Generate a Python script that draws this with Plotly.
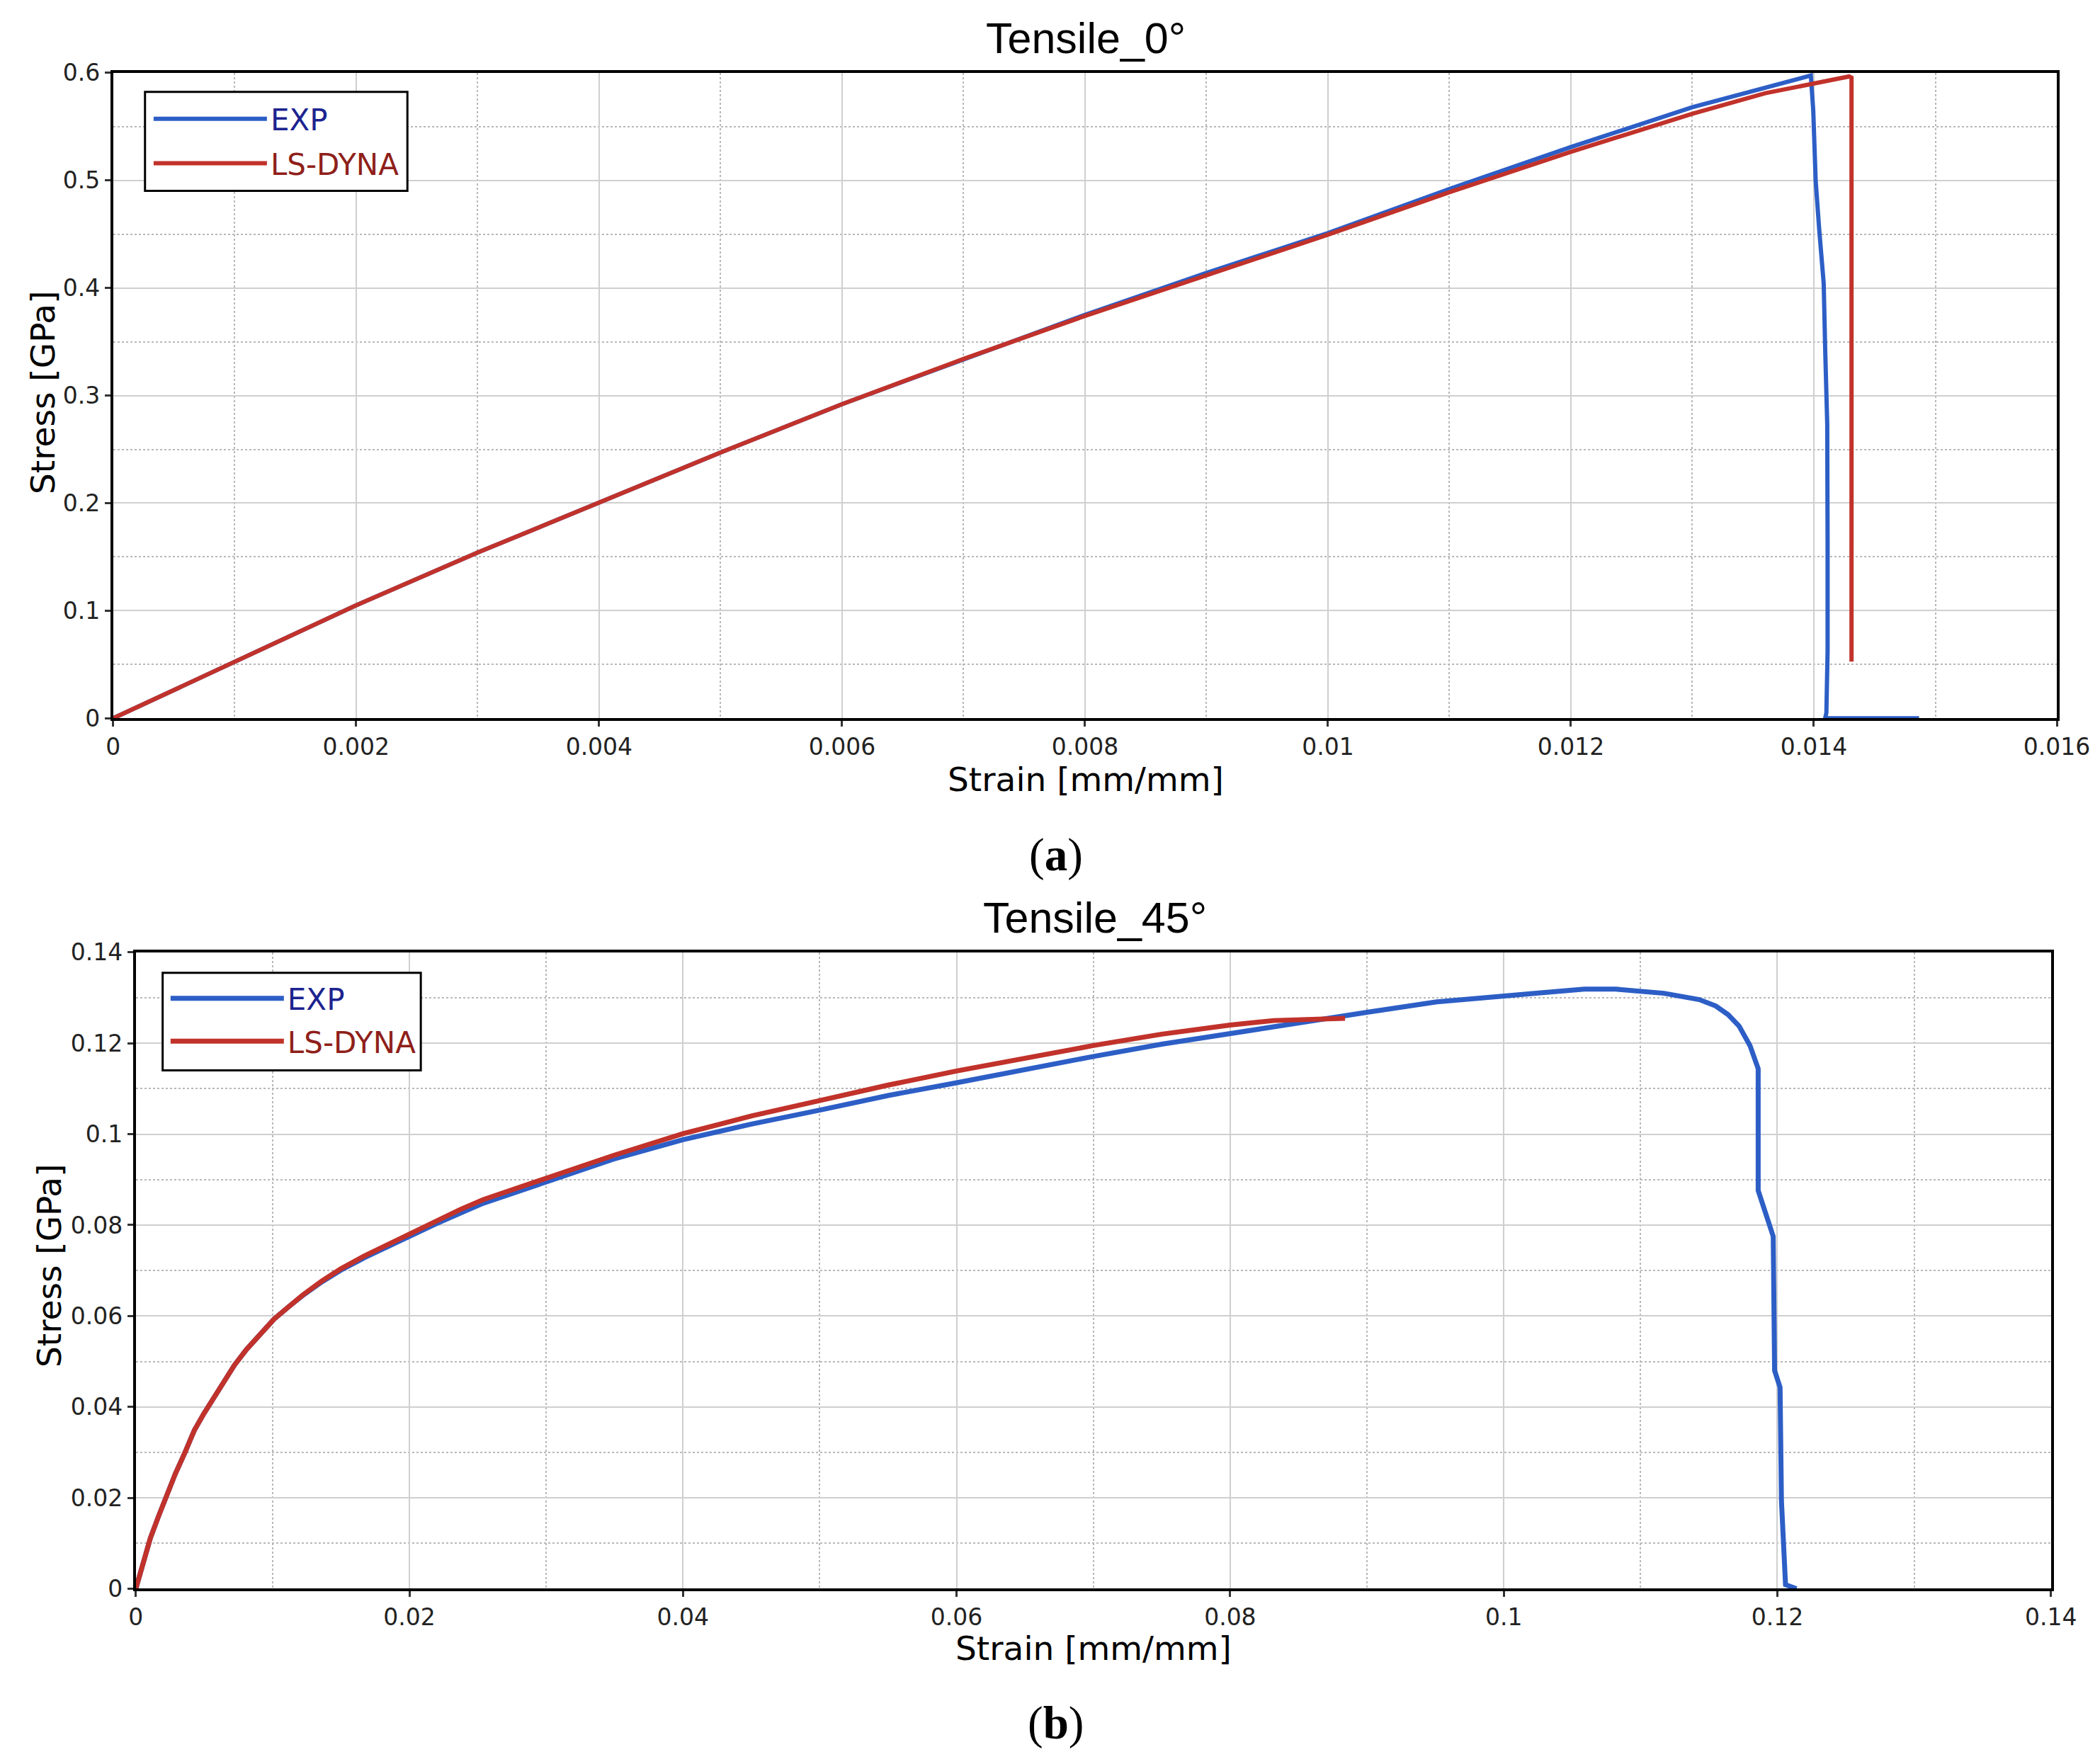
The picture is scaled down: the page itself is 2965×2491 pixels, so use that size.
import plotly.graph_objects as go

# Tensile_0 deg : strain [mm/mm] vs stress [GPa]
strain_0_exp = [0, 0.001, 0.002, 0.003, 0.004, 0.005, 0.006, 0.007, 0.008, 0.009,
                0.010, 0.011, 0.012, 0.013, 0.013975, 0.013995, 0.014015, 0.014044,
                0.014081, 0.014093, 0.01411, 0.014113, 0.014113, 0.014103, 0.014093, 0.014866]
stress_0_exp = [0, 0.053, 0.105, 0.154, 0.201, 0.247, 0.292, 0.334, 0.375, 0.414,
                0.451, 0.492, 0.531, 0.568, 0.5975, 0.565, 0.4996, 0.4544,
                0.4042, 0.344, 0.2736, 0.163, 0.0628, 0.005, 0.0, 0.0]

strain_0_dyna = [0, 0.001, 0.002, 0.003, 0.004, 0.005, 0.006, 0.007, 0.008, 0.009,
                 0.010, 0.011, 0.012, 0.013, 0.0136, 0.01429, 0.01431, 0.01431]
stress_0_dyna = [0, 0.053, 0.105, 0.154, 0.201, 0.247, 0.292, 0.334, 0.374, 0.412,
                 0.4495, 0.489, 0.5265, 0.562, 0.581, 0.5966, 0.5955, 0.0527]

# Tensile_45 deg
strain_45_exp = [0, 0.00047, 0.00107, 0.00168, 0.00228, 0.00289, 0.00358, 0.00427, 0.00497,
                 0.00566, 0.00635, 0.00721, 0.00808, 0.00912, 0.0101, 0.0112, 0.0122, 0.0136,
                 0.015, 0.0167, 0.0185, 0.02, 0.0219, 0.0237, 0.0254, 0.0304, 0.0349, 0.04,
                 0.045, 0.05, 0.055, 0.06, 0.065, 0.07, 0.075, 0.08, 0.0832, 0.09, 0.0951,
                 0.1, 0.1027, 0.1059, 0.1082, 0.1117, 0.1143, 0.1155, 0.1164, 0.1172,
                 0.1180, 0.1186, 0.1186, 0.1197, 0.1198, 0.1202, 0.1203, 0.1206, 0.1214]
stress_45_exp = [0, 0.0047, 0.0112, 0.0161, 0.0207, 0.0253, 0.0299, 0.0348, 0.0385,
                 0.0418, 0.0452, 0.0492, 0.0526, 0.0561, 0.0593, 0.0621, 0.0645, 0.0675,
                 0.0701, 0.0728, 0.0754, 0.0775, 0.0802, 0.0826, 0.0848, 0.0899, 0.0945, 0.0988,
                 0.1022, 0.1053, 0.1085, 0.1113, 0.1143, 0.1171, 0.1198, 0.1222, 0.1238, 0.1268, 0.1291,
                 0.1305, 0.1311, 0.1319, 0.1319, 0.131, 0.1296, 0.1282, 0.1263, 0.1238,
                 0.1195, 0.1144, 0.0876, 0.0775, 0.048, 0.0443, 0.0194, 0.0009, 0.0]

strain_45_dyna = [0, 0.00047, 0.00107, 0.00168, 0.00228, 0.00289, 0.00358, 0.00427, 0.00497,
                  0.00566, 0.00635, 0.00721, 0.00808, 0.00912, 0.0101, 0.0112, 0.0122, 0.0136,
                  0.015, 0.0167, 0.0185, 0.02, 0.0219, 0.0237, 0.0254, 0.0304, 0.0349, 0.04,
                  0.045, 0.05, 0.055, 0.06, 0.065, 0.07, 0.075, 0.08, 0.0832, 0.0884]
stress_45_dyna = [0, 0.0047, 0.0112, 0.0161, 0.0207, 0.0253, 0.0299, 0.0348, 0.0385,
                  0.0418, 0.0452, 0.0492, 0.0526, 0.0561, 0.0593, 0.0621, 0.0646, 0.0677,
                  0.0704, 0.0732, 0.0759, 0.0781, 0.0809, 0.0834, 0.0856, 0.0907, 0.0953, 0.1001,
                  0.1040, 0.1074, 0.1108, 0.1139, 0.1168, 0.1195, 0.1220, 0.1240, 0.1250, 0.1255]

BLUE = "#2d5ec6"
RED = "#c1322b"
SANS = "DejaVu Sans"
W, H = 2995, 2491

fig = go.Figure()

series = [
    (strain_0_exp, stress_0_exp, "EXP", "#1c238f", BLUE, 6, "x", "y", "legend"),
    (strain_0_dyna, stress_0_dyna, "LS-DYNA", "#8f1f1a", RED, 6, "x", "y", "legend2"),
    (strain_45_exp, stress_45_exp, "EXP", "#1c238f", BLUE, 7, "x2", "y2", "legend3"),
    (strain_45_dyna, stress_45_dyna, "LS-DYNA", "#8f1f1a", RED, 7, "x2", "y2", "legend4"),
]
for xs, ys, name, tcol, col, lw, xa, ya, lg in series:
    fig.add_trace(go.Scatter(x=xs, y=ys, mode="lines", showlegend=True,
                             name=f"<span style='color:{tcol}'>{name}</span>",
                             line=dict(color=col, width=lw), xaxis=xa, yaxis=ya, legend=lg))


def axis(px0, px1, rng, dtick, anchor, size):
    dom = [px0 / size, px1 / size] if anchor.startswith("y") else [1 - px1 / size, 1 - px0 / size]
    return dict(
        domain=dom, range=rng, dtick=dtick, tick0=0, anchor=anchor,
        showline=True, linecolor="black", linewidth=4, mirror=True,
        ticks="outside", ticklen=8, tickwidth=3, tickcolor="#333333",
        tickfont=dict(family=SANS, size=33, color="#222222"),
        showgrid=True, gridcolor="#cfcfcf", gridwidth=2, zeroline=False,
        minor=dict(dtick=dtick / 2, tick0=0, showgrid=True, gridcolor="#b8b8b8",
                   gridwidth=2, griddash="dot", ticks=""),
    )


def legend_at(px, py):
    return dict(x=px / W, y=1 - py / H, xanchor="left", yanchor="top",
                bgcolor="rgba(0,0,0,0)", borderwidth=0,
                font=dict(family=SANS, size=42), itemwidth=160)


fig.update_layout(
    width=W, height=H,
    margin=dict(l=0, r=0, t=0, b=0),
    paper_bgcolor="white", plot_bgcolor="white",
    showlegend=True,
    xaxis=axis(143.6, 2942.0, [0, 0.016], 0.002, "y", W),
    yaxis=axis(77.0, 1003.0, [0, 0.6], 0.1, "x", H),
    xaxis2=axis(176.2, 2933.5, [0, 0.14], 0.02, "y2", W),
    yaxis2=axis(1338.8, 2251.7, [0, 0.14], 0.02, "x2", H),
    legend=legend_at(196.7, 108.7),
    legend2=legend_at(196.7, 172.5),
    legend3=legend_at(221.1, 1370.4),
    legend4=legend_at(221.1, 1431.9),
)

# legend frames
for x0, y0, x1, y1 in [(189.4, 104.4, 567.2, 246.4), (214.8, 1368.1, 586.5, 1508.1)]:
    fig.add_shape(type="rect", xref="paper", yref="paper",
                  x0=x0 / W, x1=x1 / W, y0=1 - y1 / H, y1=1 - y0 / H,
                  line=dict(color="black", width=3), fillcolor="white", layer="above")

notes = [
    # text, x px, y px, font, size, angle
    ("Tensile_0°", 1543.7, 27.3, "Liberation Sans", 61, 0),
    ("Strain [mm/mm]", 1543.7, 1090.3, SANS, 47, 0),
    ("Stress [GPa]", 41.7, 535.5, SANS, 47, -90),
    ("(<b>a</b>)", 1500.9, 1198.8, "Liberation Serif", 65, 0),
    ("Tensile_45°", 1556.8, 1289.0, "Liberation Sans", 61, 0),
    ("Strain [mm/mm]", 1554.8, 2336.8, SANS, 47, 0),
    ("Stress [GPa]", 50.9, 1788.1, SANS, 47, -90),
    ("(<b>b</b>)", 1500.9, 2444.4, "Liberation Serif", 65, 0),
]
for text, px, py, fam, size, ang in notes:
    fig.add_annotation(text=text, x=px / W, y=1 - py / H, xref="paper", yref="paper",
                       xanchor="center", yanchor="middle", showarrow=False, textangle=ang,
                       font=dict(family=fam, size=size, color="black"))

fig.write_html("out.html")
